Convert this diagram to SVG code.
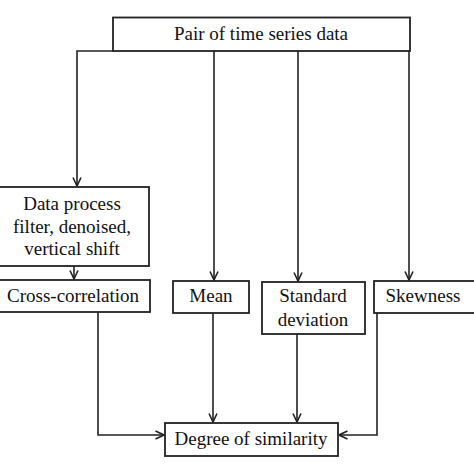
<svg xmlns="http://www.w3.org/2000/svg" width="474" height="474" viewBox="0 0 474 474">
<defs>
<marker id="ah" viewBox="0 0 10 10" refX="9.5" refY="5" markerWidth="10" markerHeight="10" markerUnits="userSpaceOnUse" orient="auto">
<path d="M1,1 L9.5,5 L1,9" fill="none" stroke="#222" stroke-width="1.6"/>
</marker>
</defs>
<style>
.box{fill:#fff;stroke:#222;stroke-width:1.8}
.t{font-family:"Liberation Serif",serif;font-size:19px;fill:#111;text-anchor:middle}
.c{fill:none;stroke:#222;stroke-width:1.6}
</style>
<rect width="474" height="474" fill="#fff"/>
<g id="connectors">
<polyline class="c" points="113,51 77,51 77,186" marker-end="url(#ah)"/>
<line class="c" x1="214" y1="51" x2="214" y2="280" marker-end="url(#ah)"/>
<line class="c" x1="298" y1="51" x2="298" y2="281" marker-end="url(#ah)"/>
<line class="c" x1="409" y1="51" x2="409" y2="280" marker-end="url(#ah)"/>
<line class="c" x1="74" y1="266" x2="74" y2="279" marker-end="url(#ah)"/>
<polyline class="c" points="98,312 98,435 164,435" marker-end="url(#ah)"/>
<line class="c" x1="213" y1="313" x2="213" y2="422" marker-end="url(#ah)"/>
<line class="c" x1="297" y1="334" x2="297" y2="422" marker-end="url(#ah)"/>
<polyline class="c" points="377,313 377,435 339,435" marker-end="url(#ah)"/>
</g>
<g id="n-pair">
<rect class="box" x="113" y="17.5" width="297" height="33.5"/>
<text class="t" x="261" y="40">Pair of time series data</text>
</g>
<g id="n-process">
<rect class="box" x="-1" y="187" width="150" height="79"/>
<text class="t" x="72" y="210">Data process</text>
<text class="t" x="72" y="233">filter, denoised,</text>
<text class="t" x="72" y="255">vertical shift</text>
</g>
<g id="n-cross">
<rect class="box" x="-1" y="280" width="151" height="32"/>
<text class="t" x="73" y="302">Cross-correlation</text>
</g>
<g id="n-mean">
<rect class="box" x="173" y="281" width="76" height="32"/>
<text class="t" x="211" y="302">Mean</text>
</g>
<g id="n-std">
<rect class="box" x="262" y="282" width="103" height="52"/>
<text class="t" x="313" y="302">Standard</text>
<text class="t" x="313" y="326">deviation</text>
</g>
<g id="n-skew">
<rect class="box" x="374" y="281" width="102" height="32"/>
<text class="t" x="423" y="302">Skewness</text>
</g>
<g id="n-degree">
<rect class="box" x="165" y="423" width="173" height="33"/>
<text class="t" x="251" y="445">Degree of similarity</text>
</g>
</svg>
